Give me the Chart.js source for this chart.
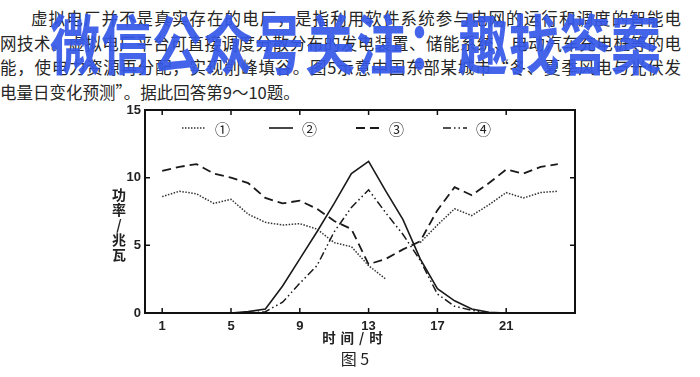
<!DOCTYPE html>
<html>
<head>
<meta charset="utf-8">
<script src="https://cdn.jsdelivr.net/npm/chart.js@4.4.0/dist/chart.umd.min.js"></script>
<style>
    html, body {margin:0; padding:0; background:#fff;}
    #page {position:relative; width:700px; height:377px; overflow:hidden; font-family:"Noto Sans CJK SC", sans-serif;}
    .ln {position:absolute; font-size:16.5px; line-height:20px; color:#262626; text-align:justify; text-align-last:justify;}
    #mark {position:absolute; left:50px; top:15px; font-size:50px; line-height:50px; font-weight:700; color:#3558e8;
           letter-spacing:1px; white-space:nowrap; transform:scaleY(1.3); transform-origin:left center; opacity:0.92; z-index:5;}
    #ytitle {position:absolute; left:111px; top:187px; width:16px; font-size:14px; font-weight:700; line-height:15px; text-align:center; color:#222;}
    #xtitle {position:absolute; left:300px; top:327px; width:110px; font-size:13.5px; font-weight:700; letter-spacing:5px; text-align:center; color:#222;}
    #fig {position:absolute; left:300px; top:346px; width:110px; font-size:16px; text-align:center; color:#222;}
    canvas {position:absolute; left:0; top:0;}
</style>
</head>
<body>
<div id="page">
    <div class="ln" style="left:31px;top:8px;width:650px;">虚拟电厂并不是真实存在的电厂，是指利用软件系统参与电网的运行和调度的智能电</div>
    <div class="ln" style="left:0;top:33px;width:681px;">网技术。虚拟电厂平台可直接调度分散分布的发电装置、储能系统、电动汽车充电桩等的电</div>
    <div class="ln" style="left:0;top:57px;width:681px;">能，使电力资源再分配，实现削峰填谷。图5示意中国东部某城市“冬、夏季风电与光伏发</div>
    <div class="ln" style="left:0;top:82px;text-align:left;text-align-last:left;">电量日变化预测”。据此回答第9～10题。</div>
    <div id="mark">微信公众号关注：趣找答案</div>
    <canvas id="chart" width="700" height="377"></canvas>
    <div id="ytitle">功<br>率<br>/<br>兆<br>瓦</div>
    <div id="xtitle">时间/时</div>
    <div id="fig">图 5</div>
</div>
<script>
// hours of the day and the four forecast curves (MW)
const hours = [1, 2, 3, 4, 5, 6, 7, 8, 9, 10, 11, 12, 13, 14, 15, 16, 17, 18, 19, 20, 21, 22, 23, 24];
const seriesNames = ["①", "②", "③", "④"];
const line1 = [8.6, 9.0, 8.8, 8.1, 8.4, 7.3, 6.7, 6.5, 6.6, 6.2, 5.2, 4.9, 3.5, 2.5, null, 5.2, 6.5, 7.7, 7.2, 8.0, 8.9, 8.5, 8.9, 9.0];
const line2 = [0, 0, 0, 0, 0, 0.1, 0.3, 2.0, 4.0, 6.0, 8.1, 10.3, 11.2, 9.0, 6.9, 4.0, 1.8, 0.9, 0.3, 0.05, 0, 0, 0, 0];
const line3 = [10.5, 10.8, 11.0, 10.3, 10.0, 9.6, 8.5, 8.1, 8.3, 7.7, 6.8, 6.2, 3.6, 4.0, 4.7, 5.3, 7.6, 9.3, 8.7, 9.6, 10.6, 10.3, 10.8, 11.0];
const line4 = [0, 0, 0, 0, 0, 0, 0.1, 0.8, 2.2, 3.5, 6.0, 7.8, 9.1, 7.4, 5.8, 3.9, 1.4, 0.5, 0.2, 0, 0, 0, 0, 0];
const xTicks = [1, 5, 9, 13, 17, 21];
const yTicks = [0, 5, 10, 15];

const tickFont = {family: '"Liberation Sans", Arial, sans-serif', size: 13, weight: "bold"};

function toPoints(values) {
    return hours.map((h, i) => ({x: h, y: values[i]}));
}

// box round the plot, inward ticks and the legend inside the plot
const framePlugin = {
    id: "frame",
    afterDatasetsDraw(chart) {
        const ctx = chart.ctx;
        const a = chart.chartArea;
        const x = chart.scales.x, y = chart.scales.y;
        ctx.save();
        ctx.strokeStyle = "#111";
        ctx.lineWidth = 2;
        ctx.strokeRect(a.left, a.top, a.right - a.left, a.bottom - a.top);
        ctx.lineWidth = 1.5;
        ctx.beginPath();
        xTicks.forEach(v => {
            const px = x.getPixelForValue(v);
            ctx.moveTo(px, a.bottom); ctx.lineTo(px, a.bottom - 5);
            ctx.moveTo(px, a.top); ctx.lineTo(px, a.top + 5);
        });
        yTicks.slice(1, -1).forEach(v => {
            const py = y.getPixelForValue(v);
            ctx.moveTo(a.left, py); ctx.lineTo(a.left + 5, py);
            ctx.moveTo(a.right, py); ctx.lineTo(a.right - 5, py);
        });
        ctx.stroke();

        // legend
        const ly = a.top + 18;
        chart.data.datasets.forEach((ds, i) => {
            const lx = a.left + 37 + i * 87;
            ctx.strokeStyle = ds.borderColor;
            ctx.lineWidth = ds.borderWidth;
            ctx.setLineDash(ds.borderDash || []);
            ctx.beginPath();
            ctx.moveTo(lx, ly);
            ctx.lineTo(lx + 24, ly);
            ctx.stroke();
            ctx.setLineDash([]);
            ctx.fillStyle = "#222";
            ctx.font = '15px "Noto Sans CJK SC", sans-serif';
            ctx.textBaseline = "middle";
            ctx.fillText(ds.label, lx + 33, ly + 1);
        });
        ctx.restore();
    }
};

new Chart(document.getElementById("chart"), {
    type: "line",
    data: {
        datasets: [
            {label: seriesNames[0], data: toPoints(line1), borderColor: "#333", borderWidth: 1.5, borderDash: [1.5, 1.5]},
            {label: seriesNames[1], data: toPoints(line2), borderColor: "#1a1a1a", borderWidth: 1.6},
            {label: seriesNames[2], data: toPoints(line3), borderColor: "#1a1a1a", borderWidth: 1.8, borderDash: [9, 5]},
            {label: seriesNames[3], data: toPoints(line4), borderColor: "#1a1a1a", borderWidth: 1.5, borderDash: [8, 3, 1.5, 3, 1.5, 3]}
        ]
    },
    options: {
        responsive: false,
        animation: false,
        devicePixelRatio: 1,
        layout: {padding: {left: 105, right: 125, top: 110, bottom: 38}},
        elements: {point: {radius: 0}, line: {tension: 0, fill: false}},
        plugins: {legend: {display: false}, tooltip: {enabled: false}},
        scales: {
            x: {
                type: "linear", min: 0, max: 25,
                afterBuildTicks: s => { s.ticks = xTicks.map(v => ({value: v})); },
                afterFit: s => { s.height = 26; },
                grid: {display: false, drawTicks: false},
                border: {display: false},
                ticks: {padding: 6, font: tickFont, color: "#222", maxRotation: 0, autoSkip: false}
            },
            y: {
                min: 0, max: 15,
                afterBuildTicks: s => { s.ticks = yTicks.map(v => ({value: v})); },
                afterFit: s => { s.width = 40; },
                grid: {display: false, drawTicks: false},
                border: {display: false},
                ticks: {padding: 4, font: tickFont, color: "#222"}
            }
        }
    },
    plugins: [framePlugin]
});
</script>
</body>
</html>
